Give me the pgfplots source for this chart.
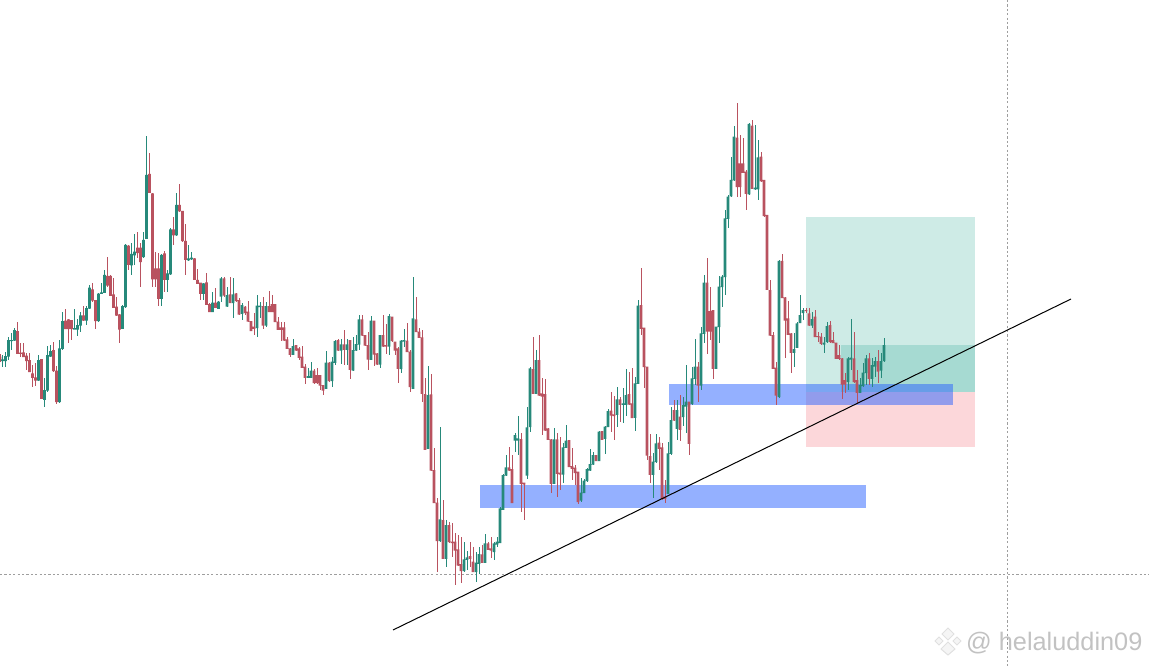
\documentclass[border=0pt]{standalone}
\usepackage{pgfplots}
\usepackage{pgfplotstable}
\usepackage{fontspec}
\setmainfont{Liberation Sans}
\pgfplotsset{compat=1.18}
\definecolor{upc}{HTML}{26897A}
\definecolor{dnc}{HTML}{B9525F}
\definecolor{tvblue}{HTML}{2962FF}
\definecolor{tvgreen}{HTML}{089981}
\definecolor{tvred}{HTML}{F23645}
\pgfplotstableread{
x hi lo t b
0 354 361.7 356.7 360
17.5 321.7 354 331 353.3
20.5 343.3 356.7 352.7 353.3
23.5 343.3 357.3 352.3 356.7
26.5 353.3 370 355.7 360.7
29.5 352.7 372.3 360 371.7
32.5 365 386.7 373.3 377.3
35.5 363.3 386 377.3 380
41.5 359 398.7 359 398.3
53.5 341.7 371.7 350 370.7
56.5 366 404 370.7 401.7
65.5 309 329 320.7 328.7
68.5 319.3 343.3 319.3 328.7
71.5 320 340 320 328.7
83.5 306 320.7 315.3 320
92.5 283.3 301.7 289.3 300
95.5 300 329.3 300 320.7
107.5 257.3 286.7 276 285
110.5 275 296 276 295.3
113.5 278.3 308.3 294.3 307.3
116.5 296.7 316 306.7 315
119.5 314.3 343.3 314.3 329
128.5 245 270 245.7 264.3
137.5 232.3 258.3 247.7 252.7
140.5 243.3 287.3 247.7 261.7
149.5 153.3 193.3 174 192.3
152.5 193.3 286.7 193.3 279
155.5 251.7 286.7 268.3 279
158.5 253.3 305.7 268.3 298.3
164.5 250.7 291.7 253.3 279.3
173.5 217.3 245 229.3 235
179.5 184.3 211.7 205 211
182.5 211 241.7 211 240.7
185.5 224 275.3 241 259.3
194.5 258.3 280 258.3 279.3
197.5 269.3 284 280 283.3
200.5 282.7 300 282.7 293.3
206.5 272.7 305 282.3 304.3
209.5 303.3 312.3 304 311.7
215.5 288.3 308.3 302.7 307.3
224 277.3 296.7 278.3 295
230 277.3 303.3 294.3 302.7
236 293.3 301.7 293.3 300.7
239 298.3 315 300 314
245 306 315 306.7 312.7
248 300.7 321.7 311.7 321
251 321 331.3 321 330.7
254 313.3 335 326.7 328.3
263 296.7 329 306 325
269 290.7 312.3 306 311.7
272 295 312.3 304 311.7
275 304 322.3 304 321.7
278 316.7 330 321.7 329.3
281 321.7 341 327.3 329.3
284 321.7 341 327.3 340
287 337.3 349.3 339.3 348.3
290 348.3 357.3 348.3 354.3
296 345 350.7 345 350
299 347.3 360 348.3 357.3
302 346 368 356.7 367.3
305 364 384 366.7 377.3
314 369.3 384 370.7 382.7
317 368.3 384 375 382.7
320 375 390 375 385
323 385 395 385 390
329 362 381.7 362.7 380.7
338 339.3 350.7 340 350
344 330 365.3 344.3 349.3
350 340 379.3 340 369.3
362 315 336 319.3 335
365 335 346 335 345
368 331.7 370 345 359
374 320.7 366 320.7 354
377 353.3 365 353.3 364
383 315 346.7 335 346
386 324 354 345 346
392 316.7 341.7 316.7 340.7
395 341.7 355 341.7 350
398 346.7 383.3 348.3 368.3
407 323.3 352.3 340.7 351.7
410 350 391.7 351.7 386.7
416 297.3 332.3 319.3 331.7
419 328.3 338 331.7 337.3
422 330 401.7 337.3 393.3
425 378.3 450 394 449.3
431 374 470.7 394.3 470
434 448.3 503.3 470 502.7
437 498.3 571.7 502.7 540.7
443 500 559.3 520 558.3
449 521.7 542.7 525 541.7
452 523.3 556.7 541.7 542.7
455 533.3 585 541.7 550
458 535 565.7 549.3 565
461 536.7 583.3 564 570.7
470 541.7 567.3 556 558.3
473 546.7 572.3 561.7 571.7
482 545 563.3 554.3 562.3
488 541.7 550 543.3 549.3
491 536.7 558.3 548.3 550
509 446.7 470.7 467.3 470
512 455 503.3 469 502.7
521 433.3 511.7 439 483.3
524 482.7 520 482.7 484
533 336.7 394 369 393.3
539 335 396 360 395
542 378.3 435 393.3 396
545 379 430.7 394 430
548 428.3 440 428.3 439.3
551 439.3 492.7 439.3 483.3
557 433.3 496.7 439.3 473.3
560 436.7 490 472.7 474
569 440 467.3 440 466.7
572 448.3 480 466 468.3
575 465 485 467.7 472.7
578 471.7 504 471.7 501.7
596 455 461.3 455 460.7
602 431 440 431 439.3
611 392.3 431.7 410.7 415
614 396 440 414.3 415.7
620 397.3 421.7 399.3 404.3
629 371.7 404.7 394 404
632 368.3 418.3 403.3 417.7
641 267.7 335 305 328.3
644 327.7 387.7 327.7 366.7
647 366.7 460 366.7 455
650 434 483.3 456 474.3
659 436.7 470 442.7 448.3
662 442.7 500 447.3 498.3
665 480 503.3 496.7 498.3
674 400 420.7 410 420
680 395 440.7 416.7 429.3
689 401.7 455 401.7 443.3
698 361.7 401.7 366.7 385
707 258.3 354.3 282.7 331
710 286.7 340 311 331
713 310 379 310 368.3
737 103.3 196.7 137.7 186.7
740 135 196.7 163.3 186.7
743 138.3 173.3 163.3 172.3
746 170 210 171.7 193.3
752 120 189 125.7 188.3
761 151.7 182.3 156.7 181
764 180 216.7 180 215.7
767 215 290 215 289.3
770 280 335.7 290 335
773 331.7 369 335 368.3
776 361.7 405 367.7 395
782 254.3 298.3 261 297.7
785 296.7 358.3 297.3 320
788 301 335 318.3 334.3
791 333.3 373.3 333.3 352.3
806 308.3 313.3 310 310.7
809 308.3 326 313.3 325
815 310 337.3 316.7 336.7
818 331.7 341.7 336 336.7
821 333.3 345 336.7 343.3
830 320.7 342.7 325 341.7
833 331.7 343.3 340 342.7
836 342.7 359.3 342.7 358.3
839 345 360 355 358.3
842 358.3 399.3 358.3 384
845 373.3 393.3 380 384
854 331.7 383.3 358.3 381.7
857 370 403.3 380 392.3
869 353.3 385 358.3 378.3
878 350 383.3 361 371
}\downtable
\pgfplotstableread{
x hi lo t b
2.5 355 366.7 359.3 360.7
5.5 351.7 367.3 356 360.7
8.5 336.7 360 340 356
11.5 333.3 350 340 340.7
14.5 328.3 340.7 330 340
38.5 355 380.7 360 380
44.5 378.3 407.3 390 399.3
47.5 346 391.7 355 390
50.5 345 356.7 351 356
59.5 340 402.7 348.3 401.7
62.5 311.7 350 321 348.3
74.5 309 329 328 329
77.5 319.3 336 325 329
80.5 311.7 331.7 315.3 325
86.5 306 325 308 320
89.5 285 309 287.7 308
98.5 292.7 321.7 293.7 320.7
101.5 282.7 294 292.3 293.3
104.5 270 293.3 275 292.3
122.5 305 329.3 306 328.3
125.5 244.3 307.7 245 306.7
131.5 242.7 275 254 265
134.5 234.3 265 251.7 255
143.5 231.7 257.7 240 256.7
146.5 136 239 175 238.3
161.5 254 306 255 298.3
167.5 270 292.3 273.3 279.3
170.5 228.3 275 229.3 274
176.5 193.3 236 205 235
188.5 245 260.7 258.3 260
191.5 252.3 260 257.7 259
203.5 282.7 300 283.3 293.3
212.5 291.7 312.3 302.7 311.7
218.5 301 309 301.7 308.3
221 276.7 301.7 278.3 296
227 286.7 306.7 295 306
233 278.3 318.3 294.3 302.7
242 302.7 320 305 313.3
257 295 337.3 305.7 327.7
260 301.7 318.3 305.7 306.7
266 301.7 326.7 306 325
293 339.3 355 346 354.3
308 368.3 377.7 376 377.3
311 361.7 378 370.7 377.3
326 351 389.3 362.7 388.3
332 357.3 387.3 361.7 380.7
335 340 365.3 341 362.3
341 339 364 344.3 350
347 339.3 365.3 344.3 349.3
353 337.3 370.7 350 370
356 335 350.7 344 350
359 315 350 319.3 344
371 316 360 320.7 359.3
380 335 368.3 335 364
389 314 355 316 346
401 340 373.3 340.7 368.7
404 329.3 346.7 340 341
413 277.3 389 318.3 388.3
428 366 449 395 448.3
440 426.7 541.7 519.3 540.7
446 520 566.7 525 558.3
464 541.7 571.7 559.3 570.7
467 551 570 557.3 559.3
476 551.7 581.7 562.7 571.7
479 546.7 574 554 563.3
485 534.3 563.3 543.3 562.3
494 541.7 560 543.3 551.7
497 536.7 546.7 541.7 544
500 506.7 543.3 508.3 542.7
503 474 510 475 509.3
506 455 476 467.3 475
515 433.3 451.7 435 440
518 416 455 438.3 440
527 407.3 479.3 427.3 475
530 366.7 431.7 368.3 426.7
536 350 394 360 393.3
554 428.3 484 439.3 483.3
563 443.3 483.3 447.3 474
566 425 448.3 440.7 447.3
581 478.3 501.7 492.7 500
584 479.3 493.3 480.7 492.7
587 468.3 481.7 469 480.7
590 449.3 470.7 464 470
593 451.7 464.7 455 464
599 431 461.3 431.7 460.7
605 426 454 426.7 438.3
608 409.3 427.3 411 426.7
617 386.7 427.3 399.3 414.3
623 388.3 423.3 403.3 404.3
626 369.3 415.7 395 404.3
635 376.7 431 383.3 417.3
638 300 384 305.7 383.3
653 453.3 498.3 461.7 474.3
656 434.3 463.3 443.3 461.7
668 441.7 494 453.3 493.3
671 406.7 455 420 453.3
677 400 440 410 428.3
683 396.7 426 405 416.7
686 365 433.3 401.7 406
692 366.7 405 378.3 403.3
695 339 385 366.7 378.3
701 326.7 390 333.3 385
704 275 343.3 282.7 333.3
716 326.7 369 326.7 368.3
719 276 343.3 286.7 326.7
722 275 306.7 276.7 286.7
725 210 295 218.3 276.7
728 195 227.7 196.7 218.3
731 156.7 196.7 180 196
734 125.7 181 136.7 180
749 123.3 195 124 194
755 125 190 187.7 189
758 140 200 157.3 189
779 260 397.7 261 396.7
794 333.3 366.7 349 352.3
797 321.7 348.3 323.3 347.3
800 295 323.3 315 322.7
803 308.3 320 310 312.7
812 311.7 328.3 319 325
824 336.7 353.3 342.7 344
827 321.7 342.7 326 341.7
848 356.7 390 358.3 381.7
851 319 370 357.7 359
860 378.3 393.3 385 392.3
863 363.3 387.3 372.7 385.7
866 355 385 358.3 372.7
872 358.3 386.7 365 378.3
875 356.7 376.7 361 366
881 353.3 378.3 361 370
884 337.7 361.7 345 360.7
}\uptable
\pgfplotsset{cax/.style={scale only axis,width=1149pt,height=666pt,
  xmin=0,xmax=1149,ymin=0,ymax=666,y dir=reverse,hide axis,clip=true}}
\newcommand{\wicks}[2]{%
  \addplot[draw=none,mark=none,forget plot,error bars/.cd,y dir=both,y explicit,error mark=none,
    error bar style={line width=1pt,color=#2}]
    table[x=x,y expr={(\thisrow{hi}+\thisrow{lo})/2},y error expr={(\thisrow{lo}-\thisrow{hi})/2}] {#1};
}
\newcommand{\bodies}[2]{%
  \begin{axis}[cax,ybar stacked,bar width=2.6pt]
  \addplot[draw=none,fill=none,forget plot] table[x=x,y=t] {#1};
  \addplot[draw=none,fill=#2,forget plot] table[x=x,y expr={\thisrow{b}-\thisrow{t}+0.5}] {#1};
  \end{axis}
}
\begin{document}
\begin{tikzpicture}
\begin{axis}[cax]
\addplot[forget plot,color=black!38,line width=0.6pt,dash pattern=on 2.2pt off 2.2pt] coordinates {(0,574)(1149,574)};
\addplot[forget plot,color=black!38,line width=0.6pt,dash pattern=on 2.2pt off 2.2pt] coordinates {(1007,0)(1007,666)};
\addplot[forget plot,draw=none,fill=tvgreen,fill opacity=0.2] coordinates {(806,217)(975,217)(975,392)(806,392)} --cycle;
\addplot[forget plot,draw=none,fill=tvgreen,fill opacity=0.2] coordinates {(841,345)(975,345)(975,392)(841,392)} --cycle;
\addplot[forget plot,draw=none,fill=tvred,fill opacity=0.2] coordinates {(806,392)(975,392)(975,447)(806,447)} --cycle;
\addplot[forget plot,draw=none,fill=tvblue,fill opacity=0.5] coordinates {(480,485)(866,485)(866,508)(480,508)} --cycle;
\addplot[forget plot,draw=none,fill=tvblue,fill opacity=0.5] coordinates {(669,384)(953,384)(953,405)(669,405)} --cycle;
\wicks{\downtable}{dnc}
\wicks{\uptable}{upc}
\end{axis}
\bodies{\downtable}{dnc}
\bodies{\uptable}{upc}
\begin{axis}[cax]
\addplot[forget plot,color=black,line width=1pt] coordinates {(393,630)(1071,299)};
\addplot[forget plot,draw=black!12,line width=1pt,fill=black!4] coordinates {(948,628)(954,634)(948,640)(942,634)} --cycle;
\addplot[forget plot,draw=black!12,line width=1pt,fill=black!4] coordinates {(948,642)(955,649)(948,655)(941,649)} --cycle;
\addplot[forget plot,draw=black!12,line width=1pt,fill=black!4] coordinates {(939,637)(943,641)(939,645)(935,641)} --cycle;
\addplot[forget plot,draw=black!12,line width=1pt,fill=black!4] coordinates {(957,637)(961,641)(957,645)(953,641)} --cycle;
\node[anchor=base west,inner sep=0pt,text=black!24,font=\fontsize{25.3}{25.3}\selectfont] at (axis cs:966,650) {@ helaluddin09};
\end{axis}
\end{tikzpicture}
\end{document}
